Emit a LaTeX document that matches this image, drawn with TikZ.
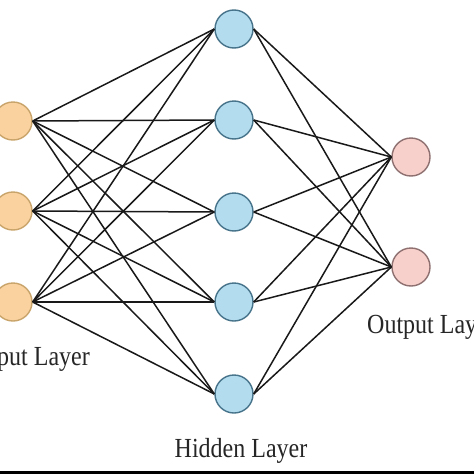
\documentclass[tikz,border=0pt]{standalone}
\usepackage{fontspec}
\usepackage{graphicx}
\setmainfont{Liberation Serif}
\definecolor{infill}{HTML}{FAD2A0}
\definecolor{indraw}{HTML}{C9A46A}
\definecolor{hidfill}{HTML}{B3DCEF}
\definecolor{hiddraw}{HTML}{46738A}
\definecolor{outfill}{HTML}{F8D0CB}
\definecolor{outdraw}{HTML}{8E7070}
\newcommand{\tallt}[1]{\scalebox{1}[1.15]{#1}}
\tikzset{
  neuron/.style={circle, minimum size=38pt, inner sep=0pt, line width=1.4pt},
  inneuron/.style={neuron, draw=indraw, fill=infill},
  hidneuron/.style={neuron, draw=hiddraw, fill=hidfill},
  outneuron/.style={neuron, draw=outdraw, fill=outfill},
  conn/.style={line width=1.5pt, draw=black!90},
  lbl/.style={font=\fontsize{24}{28}\selectfont, text=black!85, inner sep=0pt}
}
\begin{document}
\begin{tikzpicture}[x=1pt, y=-1pt]
\useasboundingbox (0,0) rectangle (474,474);
\fill[white] (0,0) rectangle (474,474);
\node[inneuron] (i1) at (13,121) {};
\node[inneuron] (i2) at (13,211) {};
\node[inneuron] (i3) at (13,302) {};
\node[hidneuron] (h1) at (234,29) {};
\node[hidneuron] (h2) at (234,120) {};
\node[hidneuron] (h3) at (234,212) {};
\node[hidneuron] (h4) at (234,302) {};
\node[hidneuron] (h5) at (234,394) {};
\node[outneuron] (o1) at (411,157) {};
\node[outneuron] (o2) at (411,267) {};
\foreach \i in {1,2,3}{
  \foreach \h in {1,...,5}{
    \draw[conn] (i\i.east) -- (h\h.west);
  }
}
\foreach \h in {1,...,5}{
  \foreach \o in {1,2}{
    \draw[conn] (h\h.east) -- (o\o.west);
  }
}
\node[lbl, anchor=base east] (li) at (90,365) {\tallt{Input Layer}};
\node[lbl, anchor=base] (lh) at (241,457) {\tallt{Hidden Layer}};
\node[lbl, anchor=base west] (lo) at (367,333) {\tallt{Output Layer}};
\fill[black] (0,471) rectangle (474,474);
\end{tikzpicture}
\end{document}
